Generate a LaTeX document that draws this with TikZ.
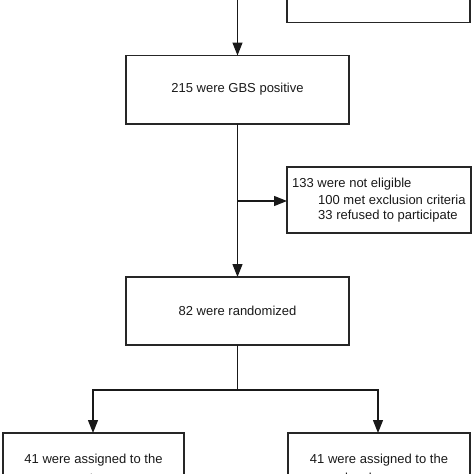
\documentclass[tikz,border=0pt]{standalone}
\usepackage{fontspec}
\setmainfont{Liberation Sans}
\usetikzlibrary{arrows.meta}
\begin{document}
\begin{tikzpicture}[x=1pt,y=-1pt,
  box/.style={draw=black!85,line width=1.3pt,inner sep=0pt},
  lbl/.style={font=\fontsize{13}{15}\selectfont,text=black!90,inner sep=0pt},
  conn/.style={line width=1.3pt,draw=black!90},
  arr/.style={conn,-{Triangle[length=13pt,width=10pt]}}]
\useasboundingbox (0,0) rectangle (474,474);
% boxes
\draw[box] (287,-20) rectangle (470,22.5);
\draw[box] (126,55.5) rectangle (349,124);
\node[lbl] (gbs) at (237.5,89.5) {215 were GBS positive};
\draw[box] (287,167) rectangle (471,233);
\coordinate (ne) at (287,201);
\node[lbl,anchor=west] (ne1) at (292,184) {133 were not eligible};
\node[lbl,anchor=west] (ne2) at (318,200) {100 met exclusion criteria};
\node[lbl,anchor=west] (ne3) at (318,216) {33 refused to participate};
\draw[box] (126,277) rectangle (349,345);
\node[lbl] (rand) at (237.5,311) {82 were randomized};
\draw[box] (3,433) rectangle (184,500);
\node[lbl] (y1) at (93.5,460.5) {41 were assigned to the};
\node[lbl] (y2) at (93.5,479.5) {yogurt group};
\draw[box] (288,433) rectangle (470,500);
\node[lbl] (p1) at (379,460.5) {41 were assigned to the};
\node[lbl] (p2) at (379,479.5) {placebo group};
% connectors
\coordinate (a0) at (237.5,0);
\coordinate (gbsT) at (237.5,55.5);
\coordinate (gbsB) at (237.5,124);
\coordinate (br) at (237.5,201);
\coordinate (rT) at (237.5,277);
\coordinate (rB) at (237.5,345);
\coordinate (sp) at (237.5,390);
\coordinate (lT) at (93,433);
\coordinate (rrT) at (378,433);
\draw[arr] (a0) -- (gbsT);
\draw[arr] (gbsB) -- (rT);
\draw[arr] (br) -- (ne);
\draw[conn] (rB) -- (sp);
\draw[arr] (sp) -| (lT);
\draw[arr] (sp) -| (rrT);
\end{tikzpicture}
\end{document}
